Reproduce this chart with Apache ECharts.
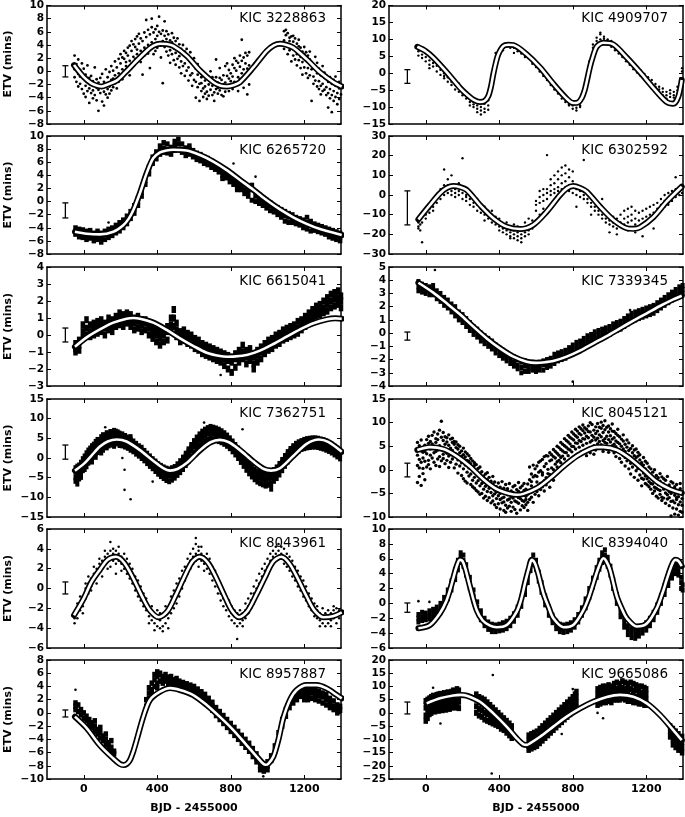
<!DOCTYPE html>
<html><head><meta charset="utf-8">
<script src="https://cdn.jsdelivr.net/npm/echarts/dist/echarts.min.js"></script>
<style>html,body{margin:0;padding:0;background:#fff}#c{width:685px;height:817px}</style>
</head><body><div id="c"></div>
<script>
// ---------- panel metadata ----------
const names = ['KIC 3228863','KIC 4909707','KIC 6265720','KIC 6302592','KIC 6615041','KIC 7339345',
               'KIC 7362751','KIC 8045121','KIC 8043961','KIC 8394040','KIC 8957887','KIC 9665086'];
const yMin  = [-8,-15,-8,-30,-3,-4,-15,-10,-6,-6,-10,-25];
const yMax  = [10,20,10,30,4,5,15,15,6,10,8,20];
const yStep = [2,5,2,10,1,1,5,5,2,2,2,5];
const errX  = -100;
const errLo = [-0.85,-3.0,-2.5,-15.2,-0.41,-0.53,-0.3,-1.5,-0.55,-1.2,-0.62,-0.4];
const errHi = [0.85,1.05,-0.2,2.1,0.41,0.08,3.3,1.4,0.66,0.05,0.44,4.1];
const xTicks = [0,400,800,1200];

// ---------- model curves [x, y] ----------
const m3228863 = [[-53,0.95],[-2,-0.8],[40,-1.8],[70,-2.15],[97,-2.3],[130,-2.0],[179,-1.4],[225,-0.2],[270,1.1],[342,3.1],[380,3.9],[415,4.2],[450,4.15],[487,3.85],[560,2.35],[633,0.1],[705,-1.65],[745,-2.2],[778,-2.3],[815,-2.1],[850,-1.65],[923,0.6],[996,3.1],[1035,3.95],[1068,4.2],[1100,4.05],[1140,3.6],[1213,1.85],[1286,-0.15],[1358,-1.65],[1404,-2.3]];
const m4909707 = [[-46,7.8],[0,6.5],[41,4.6],[114,0.3],[186,-4.3],[230,-6.6],[259,-7.8],[295,-8.5],[320,-8.2],[340,-6.8],[355,-4.0],[368,-0.2],[382,3.2],[395,5.6],[422,8.0],[450,8.4],[477,8.3],[549,5.6],[622,1.7],[694,-3.1],[767,-7.5],[803,-8.8],[830,-8.6],[850,-7.2],[865,-5.0],[876,-2.5],[890,1.0],[903,3.7],[930,7.8],[966,9.0],[1021,8.5],[1094,4.6],[1166,0.3],[1238,-4.3],[1311,-8.5],[1347,-9.0],[1374,-7.0],[1393,-2.0]];
const m6265720 = [[-48,-4.6],[16,-4.9],[88,-5.0],[161,-4.6],[215,-3.6],[245,-2.6],[270,-1.3],[306,1.3],[342,4.3],[378,6.6],[415,7.5],[450,7.8],[487,7.9],[560,7.8],[633,7.1],[705,6.1],[778,4.8],[850,3.3],[923,1.8],[996,0.2],[1068,-1.2],[1140,-2.4],[1213,-3.4],[1286,-4.2],[1350,-4.7],[1404,-5.1]];
const m6302592 = [[-40,-12.4],[23,-5.1],[78,0.9],[115,3.6],[150,4.6],[185,4.1],[223,2.5],[295,-5.1],[368,-11.8],[440,-16.1],[513,-17.3],[585,-15.2],[658,-8.5],[731,0],[770,3.5],[803,4.6],[840,3.6],[876,1.7],[948,-5.9],[1021,-12.7],[1094,-16.9],[1130,-17.2],[1166,-16.4],[1238,-11.3],[1311,-3.4],[1393,4.2]];
const m6615041 = [[-48,-0.69],[16,-0.14],[88,0.33],[161,0.73],[233,0.96],[270,1.0],[306,0.96],[378,0.73],[451,0.3],[524,-0.2],[597,-0.65],[669,-1.04],[742,-1.24],[780,-1.28],[814,-1.27],[887,-1.18],[959,-0.92],[1032,-0.53],[1104,-0.1],[1177,0.33],[1250,0.69],[1322,0.92],[1370,0.98],[1404,0.96]];
const m7339345 = [[-40,3.81],[41,3.06],[114,2.25],[186,1.42],[259,0.49],[332,-0.4],[404,-1.15],[477,-1.78],[549,-2.16],[600,-2.25],[650,-2.2],[694,-2.11],[767,-1.78],[839,-1.33],[912,-0.77],[985,-0.22],[1057,0.36],[1130,0.94],[1203,1.5],[1275,2.05],[1347,2.55],[1393,2.83]];
const m7362751 = [[-48,-3.2],[0,-1.5],[40,0.5],[88,2.9],[130,4.2],[180,4.7],[233,4.2],[306,2.0],[378,-0.7],[430,-2.5],[470,-3.2],[510,-2.8],[560,-1.3],[633,2.0],[690,4.0],[740,4.6],[790,4.0],[850,2.0],[923,-0.9],[980,-2.8],[1020,-3.2],[1068,-2.6],[1140,0.5],[1213,3.6],[1280,4.7],[1330,4.1],[1404,1.6]];
const m8045121 = [[-46,4.2],[23,4.8],[96,4.4],[168,2.9],[241,0.7],[313,-2],[386,-4.1],[459,-5.1],[495,-5.3],[531,-5.1],[604,-3.9],[676,-1.8],[749,0.7],[822,2.9],[894,4.4],[930,4.8],[967,4.8],[1040,4.2],[1112,2.4],[1185,0],[1257,-2.5],[1330,-4.1],[1393,-4.9]];
const m8043961 = [[-53,-2.7],[0,-1.0],[40,0.6],[88,1.9],[130,2.9],[175,3.2],[220,2.6],[270,1.0],[320,-0.9],[360,-2.2],[408,-2.9],[455,-2.3],[500,-0.7],[540,0.9],[590,2.7],[630,3.2],[675,2.6],[720,1.1],[770,-0.9],[805,-2.2],[845,-2.9],[890,-2.3],[940,-0.6],[985,1.1],[1030,2.7],[1075,3.2],[1120,2.5],[1165,1.0],[1213,-0.8],[1255,-2.2],[1305,-2.9],[1355,-2.8],[1404,-2.4]];
const m8394040 = [[-40,-3.35],[23,-2.9],[78,-1.3],[110,0.2],[132,1.8],[150,3.4],[168,4.94],[186,5.85],[200,5.7],[215,4.7],[241,2.25],[277,-0.9],[310,-2.3],[350,-3.0],[386,-3.2],[441,-2.9],[495,-1.1],[520,0.6],[540,2.7],[560,4.6],[577,5.85],[592,5.5],[610,4.2],[640,1.36],[670,-0.6],[694,-2],[749,-3.2],[803,-2.9],[858,-0.9],[890,1.0],[912,2.7],[940,4.8],[967,6.06],[982,5.7],[1003,4.5],[1040,0.9],[1070,-0.9],[1094,-2],[1148,-3.1],[1203,-2.7],[1257,-0.66],[1290,1.5],[1311,3.15],[1335,4.9],[1357,5.85],[1375,5.7],[1393,5.0]];
const m8957887 = [[-48,-0.57],[16,-2.3],[88,-4.9],[161,-6.9],[195,-7.7],[215,-7.9],[235,-7.7],[252,-7.1],[270,-5.8],[288,-4.1],[324,-0.6],[360,1.95],[415,3.2],[470,3.75],[524,3.46],[596,2.7],[669,1.2],[741,-0.6],[814,-2.6],[887,-4.9],[941,-6.6],[977,-7.7],[990,-7.85],[1004,-7.7],[1032,-6.6],[1059,-4.1],[1086,-0.8],[1122,1.95],[1159,3.46],[1213,4.2],[1267,4.2],[1322,3.7],[1377,2.7],[1404,2.2]];
const m9665086 = [[5,3.6],[78,5.5],[150,6.6],[190,6.8],[223,6.5],[295,4.2],[368,-0.2],[440,-5.2],[495,-9.6],[531,-11.9],[550,-12.1],[567,-11.5],[622,-9],[694,-5.2],[767,-1.4],[840,1.7],[912,4.2],[985,6],[1057,6.8],[1130,6.1],[1203,3.6],[1275,-0.8],[1347,-6.5],[1393,-10.3]];

// ---------- observed ETVs: rows of [x, y1, y2, ...] ----------
const o3228863 = [[-50,2.4,0.3,-0.9],[-40,1.1,-1.6,0.6],[-30,-0.4,1.8,-2.3],[-20,-1.9,0.2,-0.8],[-10,-2.7,-0.3,1.2],[0,-1.1,-3.4,0.4],[10,-2.2,-0.5,-3.9],[20,-1.4,-3.0,0.9],[30,-2.6,-4.8,-1.0],[40,-0.7,-3.3,-2.0],[50,-2.9,-1.5,-4.1],[60,-3.6,-2.1,0.6],[70,-1.2,-4.4,-2.5],[80,-2.8,-6.0,-1.7],[90,-3.3,-1.0,-2.2],[100,-2.4,-4.6,-0.4],[110,-1.6,-3.1,-5.2],[120,-3.5,-2.0,0.3],[130,-0.9,-2.7,-4.0],[140,-2.3,-0.1,-3.4],[150,-1.3,-2.9,0.8],[160,0.1,-2.4,-1.1],[170,-1.8,1.5,-0.6],[180,0.6,-1.2,-2.6],[190,-0.3,1.9,-1.6],[200,1.2,-0.9,2.6],[210,0.3,2.1,-1.2],[220,1.9,-0.2,3.1],[230,0.8,2.8,1.4],[240,2.4,0.4,3.6],[250,1.6,3.9,-0.6],[260,3.1,1.2,4.6],[270,2.2,4.1,0.9],[280,3.7,1.9,4.9],[290,2.6,5.3,3.3],[300,4.2,2.1,5.7],[310,3.1,5.0,1.4],[320,4.6,2.8,-0.5],[330,3.6,5.9,2.4],[340,5.2,3.3,7.8],[350,4.0,6.3,2.7],[360,5.6,3.4,0.5],[370,4.4,6.7,8.0],[380,5.9,3.8,2.6],[390,4.9,6.4,3.1],[400,5.4,3.6,6.9],[410,4.3,6.0,8.3],[420,5.7,3.9,2.1],[430,4.6,6.2,-1.8],[440,3.7,5.4,7.6],[450,4.9,3.0,6.1],[460,4.1,5.6,2.4],[470,3.2,4.7,1.3],[480,4.4,2.6,5.8],[490,3.5,1.7,5.1],[500,2.8,4.6,1.0],[510,3.6,1.9,5.0],[520,2.3,4.1,0.6],[530,1.5,3.4,-0.3],[540,2.7,0.8,4.0],[550,1.2,3.0,-0.7],[560,2.2,0.1,3.4],[570,0.6,2.4,-1.4],[580,1.5,-0.6,2.9],[590,-0.3,1.8,-2.2],[600,0.9,-1.3,2.0],[610,-1.6,0.4,-4.0],[620,-0.5,-2.4,1.1],[630,-1.9,0.2,-4.5],[640,-0.9,-3.0,-1.8],[650,-2.6,-0.6,-3.9],[660,-1.4,-3.4,-2.3],[670,-3.1,-1.1,-4.2],[680,-2.0,-3.7,-0.8],[690,-2.8,-1.2,0.0],[700,-3.6,-2.2,-0.9],[710,-1.5,-3.2,-4.5],[720,-2.7,-0.9,1.8],[730,-3.4,-1.7,-2.5],[740,-1.0,-2.9,0.5],[750,-2.3,-3.6,-1.3],[760,-0.6,-2.0,-3.8],[770,-1.7,-3.1,0.8],[780,-2.5,-0.7,1.2],[790,-1.1,-3.0,0.2],[800,-2.2,-0.3,-1.5],[810,-0.8,-2.7,1.0],[820,-1.6,0.5,2.0],[830,0.1,-1.9,1.6],[840,-0.9,1.3,-3.0],[850,0.7,-1.2,2.4],[860,1.6,-0.3,4.8],[870,0.3,2.1,-2.5],[880,1.2,-0.5,2.8],[890,2.4,0.4,-3.5],[900,0.9,2.9,-2.0],[1090,4.7,6.1,3.4],[1100,5.5,3.9,6.3],[1110,4.0,5.8,2.6],[1120,5.1,3.2,4.6],[1130,3.6,5.3,1.5],[1140,4.5,2.4,5.4],[1150,3.3,5.0,1.8],[1160,2.6,4.2,0.9],[1170,3.8,1.7,4.8],[1180,2.2,3.6,0.5],[1190,1.4,3.0,-0.5],[1200,2.6,0.6,3.7],[1210,1.6,-0.3,2.9],[1220,0.5,2.4,-1.0],[1230,1.8,-0.6,3.0],[1240,0.3,1.4,-4.5],[1250,-0.8,1.0,-1.9],[1260,0.6,-1.4,2.2],[1270,-0.3,-2.3,1.3],[1280,-1.5,0.4,-2.7],[1290,-0.6,-2.2,-3.5],[1300,-1.9,0.8,-3.0],[1310,-1.0,-2.8,-0.2],[1320,-2.4,-0.6,-3.6],[1330,-1.6,-3.3,-5.5],[1340,-2.7,-0.9,-4.1],[1350,-1.9,-3.6,-6.2],[1360,-3.0,-1.3,-4.5],[1370,-2.2,-3.9,-0.8],[1380,-3.3,-1.8,-5.0],[1390,-2.6,-4.2,-1.6],[1400,-3.5,-2.0]];
const o4909707 = [[-40,6.5,5.2],[-20,5.5,4.5],[0,4.8,3.5],[20,3.8,2.5,1.5],[40,3.0,2.0],[60,2.2,0.5],[80,1.0,-0.5],[100,0.0,-1.5,-0.8],[120,-1.2,-2.5],[140,-2.5,-3.5],[160,-3.5,-4.8],[180,-4.5,-5.5,-3.0],[200,-5.8,-6.5],[220,-6.5,-7.5],[240,-7.5,-8.5,-9.5],[260,-8.5,-10.0,-9.2],[280,-9.5,-10.5,-11.5],[300,-10.0,-11.0,-12.2],[320,-9.0,-10.5,-11.5],[340,-8.0,-9.5,-10.8],[380,4.0,6.0],[400,7.0,6.2,5.5],[420,8.0,7.5,6.8],[440,8.5,7.8],[460,8.2,7.5,8.8],[480,7.5,8.0,6.0],[500,7.2,6.5],[520,6.5,5.8],[540,5.5,6.2,4.8],[560,4.5,5.0],[580,3.5,4.2,2.8],[600,2.5,1.8],[620,1.2,0.5],[640,0.0,-0.8],[660,-1.0,-2.0,-1.5],[680,-2.5,-3.5],[700,-4.0,-4.8],[720,-5.2,-6.0],[740,-6.5,-7.5],[760,-7.8,-8.5],[780,-8.5,-9.5,-9.2],[800,-9.5,-10.5],[820,-9.0,-10.2,-11.0],[840,-9.5,-10.0],[890,2.0,3.5],[910,6.0,7.5,8.5],[930,9.5,10.5,8.0],[950,10.0,11.5,9.0,12.0],[970,10.2,9.5,10.8],[990,9.0,10.0,8.5],[1010,8.5,7.8,9.5],[1030,7.5,8.2,6.8],[1050,6.5,7.0,5.8],[1070,5.5,6.2,4.8],[1090,4.2,5.0,3.5],[1110,3.2,4.0,2.5],[1130,2.0,2.8,1.2],[1150,1.0,1.5,0.2],[1170,0.0,0.8,-0.8],[1190,-1.0,-0.2,-1.8],[1210,-2.0,-1.2,-2.8],[1230,-3.0,-2.0,-3.8],[1250,-4.0,-3.2,-4.8],[1270,-4.8,-4.0,-5.8],[1290,-5.5,-6.5,-4.5],[1310,-6.5,-5.5,-7.5],[1330,-6.0,-7.0,-5.0],[1350,-6.5,-5.5,-7.2],[1370,-5.0,-6.0,-4.0],[1385,-3.0,-1.5],[1395,0.5,1.5]];
const o6265720 = [[-45,-4.0,-4.6,-5.0],[-25,-4.2,-4.8,-5.4],[-5,-4.3,-5.0,-5.5],[15,-4.5,-5.2,-5.8],[35,-4.4,-5.0,-5.6],[55,-4.8,-5.4,-6.0],[75,-4.5,-5.2,-5.8],[95,-4.8,-5.5,-6.2],[115,-4.5,-5.0,-5.8],[135,-4.2,-4.8,-5.5],[155,-4.0,-4.6,-5.2],[175,-3.6,-4.2,-4.8],[195,-3.2,-3.8,-4.5],[215,-2.8,-3.4,-4.0],[235,-2.2,-2.8,-3.4],[255,-1.5,-2.0,-2.6],[275,-0.6,-1.2,-1.8],[295,0.5,0.0,-0.6],[315,2.0,1.4,0.8],[335,3.8,3.2,2.6],[355,5.3,4.8,4.2],[375,6.8,6.2,5.8],[395,7.6,7.0,6.5],[415,8.5,7.8,7.2],[435,9.0,8.2,7.5],[455,8.8,8.0,7.4],[475,8.3,7.8,7.2],[495,9.2,8.6,7.8],[515,9.5,8.8,8.0],[535,8.8,8.0,7.5],[555,8.2,7.6,7.0],[575,8.5,8.0,7.2],[595,7.8,7.2,6.8],[615,7.4,7.0,6.4],[635,7.2,6.6,6.2],[655,6.8,6.4,5.8],[675,6.6,6.0,5.6],[695,6.2,5.8,5.2],[715,5.8,5.4,4.9],[735,5.4,5.0,4.5],[755,5.0,4.5,4.0,3.5],[775,4.6,4.2,3.6],[795,4.2,3.6,3.0],[815,3.8,3.2,2.6],[835,3.4,2.8,2.2,1.8],[855,3.0,2.4,1.8],[875,2.5,1.8,1.2],[895,2.2,1.5,0.8],[915,2.5,1.8,0.2],[935,1.5,0.8,0.0],[955,1.0,0.4,-0.3],[975,0.6,0.0,-0.6],[995,0.2,-0.3,-1.0],[1015,-0.2,-0.7,-1.4],[1035,-0.6,-1.1,-1.6],[1055,-0.9,-1.4,-2.0],[1075,-1.2,-1.8,-2.4],[1095,-1.5,-2.2,-3.0],[1115,-1.8,-2.4,-3.2],[1135,-2.0,-2.6,-3.2],[1155,-2.4,-2.8,-3.4],[1175,-2.6,-3.0,-3.6],[1195,-2.8,-3.4,-4.0],[1215,-2.4,-3.2,-4.2],[1235,-3.0,-3.6,-4.5],[1255,-3.4,-3.9,-4.4],[1275,-3.6,-4.1,-4.6],[1295,-3.8,-4.3,-4.8],[1315,-4.0,-4.5,-5.0],[1335,-4.2,-4.7,-5.4],[1355,-4.4,-5.0,-5.6],[1375,-4.6,-5.2,-5.8],[1395,-4.8,-5.4,-6.0]];
const o6302592 = [[-40,-14,-17,-16],[-30,-12,-18,-15],[-20,-10,-14,-24],[0,-8,-12,-10],[20,-5,-9,-7],[40,-3,-6,-8],[60,-1,-4,0],[80,1,-2,3],[100,2,0,5,13],[120,3,1,8,5],[140,4,2,0,10],[160,3,5,1,-1],[180,2,4,0,6],[200,1,3,-2,18.7],[220,0,2,-3,-1],[240,-2,0,-5],[260,-4,-2,-6],[280,-5,-3,-8,-2],[300,-7,-5,-9],[320,-8,-6,-10,-13],[340,-10,-8,-12],[360,-12,-10,-14,-8],[380,-13,-11,-15],[400,-14,-12,-16,-18],[420,-15,-17,-19],[440,-16,-18,-20,-14],[460,-17,-19,-21,-22],[480,-18,-20,-22,-15],[500,-19,-21,-23,-16],[520,-18,-20,-22,-24],[540,-17,-19,-21,-14],[560,-16,-18,-20,-12],[580,-13,-15,-17],[600,-5,-3,-8,-13],[620,-4,-1,2,-10],[640,-3,0,3,-7],[660,1,3,-2,20.3],[680,2,5,0,8],[700,3,6,1,10],[720,4,8,2,12],[740,6,10,3,14],[760,7,11,4,15],[780,5,9,2,13],[800,4,7,1,12],[820,3,5,0,-6],[840,2,4,-1],[860,0,3,-2,17.8],[880,-2,1,-4],[900,-4,-1,-6,-10],[920,-6,-3,-8],[940,-8,-5,-10],[960,-10,-7,-12,-2],[980,-12,-9,-14],[1000,-13,-10,-15,-19],[1020,-14,-11,-16],[1040,-15,-12,-17,-20],[1060,-14,-10,-16],[1080,-12,-8,-15],[1100,-11,-7,-14,-18],[1120,-10,-6,-13],[1140,-12,-8,-15,-19],[1160,-13,-9,-16],[1180,-12,-8,-15,-21],[1200,-11,-7,-14],[1220,-10,-6,-12],[1240,-9,-5,-11,-17],[1260,-7,-4,-10],[1280,-5,-2,-8],[1300,-3,0,-6],[1320,-2,1,-5,-4],[1340,0,2,-3],[1360,1,3,-1,9],[1380,2,4,0],[1395,3,5,1]];
const o6615041 = [[-45,-0.5,-0.8,-1.0],[-25,-0.3,-0.6,-0.9],[-5,0.2,-0.2,0.6],[15,0.4,0.0,0.9],[35,0.2,0.6,-0.1],[55,0.4,0.0,0.7],[75,0.5,0.1,0.8],[95,0.6,0.2,0.9],[115,0.4,0.0,0.7],[135,0.7,0.3,1.0],[155,0.5,0.9,0.2],[175,0.8,0.5,1.1],[195,1.0,0.6,1.3],[215,0.8,1.2,0.5],[235,1.0,0.7,1.3],[255,0.9,0.5,1.2],[275,0.7,1.0,0.3],[295,0.8,0.4,1.1],[315,0.6,0.9,0.2],[335,0.7,0.3,0.9],[355,0.4,0.7,0.0],[375,0.2,-0.2,0.5],[395,0.0,-0.4,0.3],[415,-0.2,-0.6,0.2],[435,0.0,-0.4,0.3],[455,0.2,-0.3,0.5],[475,0.6,1.0,0.2],[490,1.0,1.5,0.5],[505,0.3,0.7,-0.1],[525,-0.1,0.2,-0.4],[545,0.0,-0.3,0.3],[565,-0.2,0.1,-0.5],[585,-0.3,0.0,-0.6],[605,-0.5,-0.2,-0.8],[625,-0.6,-0.3,-0.9],[645,-0.8,-0.5,-1.1],[665,-0.9,-1.2,-0.6],[685,-1.0,-1.3,-0.7],[705,-1.1,-1.4,-0.8],[725,-1.2,-1.5,-0.9],[745,-1.3,-1.6,-1.0],[765,-1.4,-1.8,-1.1],[785,-1.5,-2.0,-1.2],[805,-1.6,-2.2,-1.3],[825,-1.4,-1.9,-1.1],[845,-1.2,-1.6,-0.9],[865,-1.0,-1.4,-0.6],[885,-0.9,-1.3,-1.7],[905,-1.1,-1.5,-0.8],[925,-1.3,-1.7,-2.0],[945,-1.2,-1.6,-0.9],[965,-1.0,-1.4,-0.7],[985,-0.8,-1.1,-0.5],[1005,-0.6,-0.9,-0.3],[1025,-0.5,-0.8,-0.2],[1045,-0.3,-0.6,0.0],[1065,-0.2,-0.5,0.1],[1085,0.0,-0.3,0.3],[1105,0.1,-0.2,0.4],[1125,0.2,-0.1,0.5],[1145,0.3,0.0,0.6],[1165,0.4,0.1,0.8],[1185,0.6,0.3,0.9],[1205,0.8,0.5,1.1],[1225,1.0,0.7,1.3],[1245,1.2,0.9,1.5],[1265,1.4,1.1,1.7],[1285,1.5,1.2,1.8],[1305,1.6,1.3,2.0],[1325,1.8,1.4,2.2],[1345,2.0,1.6,2.4],[1365,2.1,1.7,2.5],[1385,2.2,1.8,2.6],[1400,2.0,1.6,2.3]];
const o7339345 = [[-40,3.9,3.5,3.2],[-20,3.7,3.4,3.1],[0,3.6,3.3,3.0],[20,3.5,3.2,2.9],[40,3.6,3.3,2.9],[60,3.2,2.9,2.6],[80,3.0,2.7,2.4],[100,2.7,2.4,2.1],[120,2.5,2.2,1.9],[140,2.2,1.9,1.6],[160,2.0,1.6,1.3],[180,1.6,1.3,1.0],[200,1.4,1.1,0.8],[220,1.1,0.8,0.5],[240,0.8,0.5,0.2],[260,0.5,0.2,-0.1],[280,0.3,0.0,-0.3],[300,0.0,-0.3,-0.6],[320,-0.2,-0.5,-0.8],[340,-0.4,-0.7,-1.0],[360,-0.6,-0.9,-1.2],[380,-0.9,-1.2,-1.5],[400,-1.1,-1.4,-1.7],[420,-1.3,-1.6,-1.9],[440,-1.5,-1.8,-2.1],[460,-1.7,-2.0,-2.3],[480,-1.8,-2.2,-2.5],[500,-2.0,-2.4,-2.7],[520,-2.2,-2.6,-3.0],[540,-2.1,-2.5,-2.9],[560,-2.3,-2.6,-2.9],[580,-2.2,-2.5,-2.8],[600,-2.3,-2.6,-2.9],[620,-2.2,-2.5,-2.8],[640,-2.1,-2.4,-2.8],[660,-2.0,-2.3,-2.6],[680,-1.9,-2.2,-2.5],[700,-1.6,-1.9,-2.3],[720,-1.5,-1.8,-2.1],[740,-1.4,-1.7,-2.0],[760,-1.3,-1.6,-1.9],[780,-1.1,-1.4,-1.7],[800,-0.9,-1.2,-1.5],[820,-0.7,-1.0,-1.3],[840,-0.6,-0.9,-1.2],[860,-0.4,-0.7,-1.0],[880,-0.2,-0.5,-0.8],[900,-0.1,-0.4,-0.7],[920,0.1,-0.2,-0.5],[940,0.2,-0.1,-0.4],[960,0.3,0.0,-0.3],[980,0.4,0.1,-0.2],[1000,0.5,0.2,-0.1],[1020,0.7,0.4,0.1],[1040,0.8,0.5,0.2],[1060,0.9,0.6,0.3],[1080,1.1,0.8,0.5],[1100,1.3,1.0,0.7],[1120,1.5,1.2,0.9],[1140,1.6,1.3,1.0],[1160,1.7,1.4,1.1],[1180,1.8,1.5,1.2],[1200,1.9,1.6,1.3],[1220,2.0,1.7,1.4],[1240,2.1,1.8,1.5],[1260,2.3,2.0,1.7],[1280,2.5,2.2,1.9],[1300,2.7,2.4,2.1],[1320,2.9,2.6,2.3],[1340,3.1,2.8,2.5],[1360,3.3,3.0,2.7],[1380,3.5,3.2,2.9],[1398,3.6,3.3,3.0]];
const o7362751 = [[-45,-3.4,-4.9,-5.8,-2.6],[-35,-2.2,-4.1,-6.5,-3.3],[-25,-1.9,-3.5,-5.2,-4.6],[-15,-1.2,-2.6,-4.8,-3.7],[-5,-0.3,-2.4,-3.1,-1.5],[5,0.4,-1.3,-2.8,-0.6],[15,1.2,-0.4,-2.1,0.3],[25,1.9,0.3,-1.2,1.0],[35,2.4,0.9,-0.5,1.6],[45,1.8,3.0,0.2,-0.9],[55,3.4,1.6,0.7,2.5],[65,2.9,4.1,1.2,0.3],[75,3.8,2.2,1.5,4.6],[85,4.5,3.1,1.9,2.6],[95,3.7,5.3,2.4,1.4],[105,4.9,3.4,5.8,2.1],[117,4.2,3.1],[125,5.6,3.9,6.3,2.7],[135,6.1,4.6,3.2,5.2],[145,5.0,6.6,3.6,4.3],[155,6.4,4.8,3.4,5.7],[165,5.3,6.9,4.1,3.1],[175,6.7,4.5,5.6,3.7],[185,5.9,3.9,6.5,4.8],[195,4.4,6.2,5.1,3.3],[210,6.0,4.6,3.2,5.5],[225,5.6,4.1,2.9,5.0],[240,5.2,3.7,2.6,4.4],[255,4.6,3.3,2.1,5.3],[270,4.2,2.9,1.7,3.5],[285,3.6,2.3,1.1,2.9],[300,3.0,1.8,0.6,2.4],[315,2.6,1.2,0.0,1.9],[330,1.8,0.5,-0.6,1.1],[345,1.1,-0.2,-1.3,0.4],[360,0.4,-0.8,-2.0,-0.3],[375,-0.3,-1.5,-2.6],[390,-0.9,-2.1,-3.3,-1.4],[405,-1.6,-2.8,-4.0,-2.3],[420,-2.0,-3.4,-4.6,-2.7],[435,-2.4,-3.8,-5.1,-3.1],[450,-2.7,-4.2,-5.6,-3.5],[465,-2.9,-4.4,-5.9,-3.8],[480,-2.6,-4.1,-5.5,-3.3],[495,-2.3,-3.6,-5.0,-4.4],[510,-1.6,-3.0,-4.3,-2.4],[525,-0.8,-2.2,-3.6,-1.5],[540,0.1,-1.3,-2.8,-0.6],[555,1.1,-0.3,-1.8,0.5],[570,2.2,0.8,-0.7,1.6],[585,3.3,1.9,0.4,2.7],[600,4.3,2.9,1.4,3.6],[615,5.2,3.8,2.3,4.5],[630,6.0,4.6,3.1,5.3],[645,6.7,5.3,3.8,6.0],[660,7.2,5.8,4.3,6.5],[675,7.6,6.2,4.7,6.9],[690,7.9,6.4,5.0,7.2],[705,7.7,6.3,4.8,7.0],[720,7.5,6.0,4.6,6.8],[735,7.2,5.7,4.3,6.5],[750,6.8,5.4,4.0,6.1],[765,6.3,5.0,3.6,5.7],[780,5.7,4.4,3.1,5.1],[795,5.0,3.7,2.5,4.4],[810,4.2,3.0,1.7,3.6],[825,3.3,2.1,0.9,2.7],[840,2.4,1.2,0.0,1.8],[855,1.4,0.2,-1.0,0.8],[870,0.4,-0.8,-2.0,-0.2],[885,-0.6,-1.8,-3.0,-1.2],[900,-1.5,-2.7,-3.9,-2.1],[915,-2.3,-3.5,-4.7,-2.9],[930,-2.9,-4.2,-5.4,-3.6],[945,-3.4,-4.7,-6.0,-4.1],[960,-3.7,-5.0,-6.4,-4.4],[975,-3.9,-5.3,-6.7,-4.6],[990,-4.0,-5.4,-6.9,-7.0],[1005,-3.9,-5.3,-6.8,-4.5],[1020,-3.6,-5.0,-6.4,-7.8],[1035,-3.1,-4.5,-5.8,-3.8],[1050,-2.4,-3.8,-5.1,-3.1],[1065,-1.5,-2.9,-4.2,-2.2],[1080,-0.5,-1.8,-3.1,-1.2],[1095,0.5,-0.7,-2.0,-0.1],[1110,1.5,0.3,-0.9,0.9],[1125,2.3,1.2,0.0,1.8],[1140,3.0,1.9,0.8,2.5],[1155,3.6,2.5,1.4,3.1],[1170,4.0,3.0,1.9,3.5],[1185,4.3,3.3,2.3,3.8],[1200,4.6,3.6,2.5,4.1],[1215,4.8,3.8,2.7,4.3],[1230,4.9,3.9,2.8,4.4],[1245,5.0,4.0,2.9,4.5],[1260,5.0,4.0,2.9,4.5],[1275,4.9,3.9,2.8,4.4],[1290,4.7,3.7,2.6,4.2],[1305,4.5,3.5,2.4,4.0],[1320,4.2,3.2,2.1,3.7],[1335,3.8,2.8,1.8,3.3],[1350,3.4,2.4,1.4,2.9],[1365,2.9,1.9,0.9,2.4],[1380,2.4,1.4,0.4,1.9],[1395,1.9,0.9,-0.1,1.4]];
const o8045121 = [[-45,5.8,0.9,3.1,-2.7],[-35,2.2,5.1,-1.4,0.4],[-25,4.0,-3.3,1.6,6.3],[-15,0.3,3.7,-0.8,2.5],[-5,5.2,1.8,-2.1,3.9],[5,3.4,6.4,0.6,4.8],[15,2.0,5.6,7.1,1.1],[25,6.0,3.1,0.2,4.4],[35,4.7,7.3,2.5,5.5],[45,1.6,5.0,8.0,3.6],[55,6.6,3.9,0.9,5.8],[65,4.2,7.6,2.3,6.4],[75,5.1,2.8,8.4,0.7],[85,6.9,4.5,1.9,10.3],[95,3.3,6.2,7.9,2.4],[105,5.4,1.3,4.0,7.0],[115,6.8,3.5,5.9,2.0],[125,2.9,5.2,7.4,0.5],[135,4.6,6.5,1.6,3.7],[145,5.8,2.3,4.1,6.7],[155,3.0,5.4,0.4,6.0],[165,4.7,1.2,3.3,5.9],[175,2.1,4.4,-0.7,5.3],[185,3.6,0.8,5.0,2.4],[195,1.5,4.0,-1.2,2.9],[205,3.2,0.2,4.6,-1.9],[215,1.0,2.7,-2.4,3.8],[225,-0.5,2.0,3.4,-2.8],[235,1.8,-1.3,0.4,3.0],[245,-0.9,1.3,-3.1,2.4],[255,0.6,-2.2,1.9,-3.6],[265,-1.6,0.9,-3.9,1.5],[275,-0.2,-2.8,1.1,-4.4],[285,-2.3,0.3,-4.7,-1.0],[295,-0.9,-3.4,0.6,-5.2],[305,-2.9,-0.4,-5.0,-1.7],[315,-1.3,-4.1,-6.0,-2.6],[325,-3.5,-0.9,-5.6,-2.0],[335,-2.1,-4.6,-6.5,-0.6],[345,-3.9,-1.6,-5.9,-2.7],[355,-4.8,-2.4,-7.0,-3.3],[365,-3.0,-5.5,-1.4,-6.6],[375,-4.3,-7.4,-2.6,-5.1],[385,-3.6,-6.1,-8.0,-4.7],[395,-5.5,-2.8,-7.2,-4.1],[405,-6.3,-3.7,-8.3,-5.0],[415,-4.4,-7.0,-2.5,-6.0],[425,-5.8,-8.6,-3.9,-6.8],[435,-4.9,-7.5,-3.1,-9.0],[445,-6.4,-4.0,-8.1,-5.3],[455,-5.1,-7.7,-2.9,-6.2],[465,-6.9,-4.5,-8.8,-5.7],[475,-3.6,-6.0,-7.9,-4.8],[485,-5.4,-8.4,-3.3,-6.6],[495,-6.8,-4.2,-9.2,-5.0],[505,-4.6,-7.1,-5.9,-2.7],[515,-6.1,-3.8,-8.5,-5.4],[525,-5.0,-7.6,-3.4,-6.5],[535,-6.7,-4.4,-8.0,-2.9],[545,-4.1,-6.3,-7.4,-5.6],[555,-5.2,-3.0,-6.9,-8.6],[565,-2.1,-4.6,0.6,-6.3],[575,-3.4,-0.9,-5.8,-2.5],[585,-1.5,-4.4,1.0,-6.9],[595,-3.8,-1.2,-5.2,0.2],[605,-2.6,0.8,-4.6,-1.4],[615,-0.5,-3.3,1.6,-5.5],[625,-2.9,-0.2,-4.2,1.9],[635,-1.1,2.2,-3.6,-0.6],[645,0.7,-2.3,2.8,-4.5],[655,-1.7,1.3,-3.2,3.0],[665,0.1,2.9,-2.4,-0.8],[675,1.9,-1.0,3.6,-3.7],[685,0.4,3.2,-1.6,2.1],[695,2.8,0.0,4.3,-2.2],[705,1.2,3.9,-0.9,2.5],[715,3.5,0.6,5.0,1.7],[725,2.0,4.7,-0.3,3.1],[735,4.3,1.5,5.8,2.6],[745,2.9,5.4,0.7,4.0],[755,5.1,2.3,6.6,3.7],[765,3.6,6.2,1.4,4.8],[775,5.9,3.0,7.3,4.4],[785,4.2,6.9,2.1,5.5],[795,6.6,3.8,8.0,5.0],[805,4.9,7.6,2.7,6.3],[815,7.2,4.4,8.6,5.7],[825,5.6,8.2,3.3,6.9],[835,7.7,4.8,9.1,6.2],[845,6.0,8.7,3.8,7.4],[855,8.3,5.2,9.5,6.6],[865,6.5,8.9,4.1,7.8],[875,8.6,5.6,3.0,7.1],[885,6.8,9.3,4.5,8.1],[895,8.0,5.9,10.0,3.6],[905,7.3,9.6,4.8,6.2],[915,5.1,8.4,6.9,3.3],[925,9.1,6.3,4.2,7.7],[935,6.7,9.8,5.5,8.2],[945,4.6,7.4,9.0,6.0],[955,8.8,5.3,10.1,7.0],[965,6.2,9.4,3.9,7.9],[975,8.5,5.8,10.4,6.6],[985,7.1,4.4,9.0,5.6],[995,9.3,6.4,3.7,8.0],[1005,5.9,8.7,4.8,7.2],[1015,8.2,5.1,9.7,6.5],[1025,6.8,3.6,8.1,5.4],[1035,4.9,7.7,2.8,6.1],[1045,7.3,4.3,8.6,5.8],[1055,5.5,2.4,7.0,4.2],[1065,3.7,6.5,1.6,5.0],[1075,6.1,3.0,7.4,4.4],[1085,2.6,5.4,0.8,3.9],[1095,4.8,1.9,6.3,3.2],[1105,3.0,5.7,0.2,4.1],[1115,1.4,4.5,-0.9,2.7],[1125,3.6,0.6,5.1,2.0],[1135,1.9,4.2,-1.6,3.0],[1145,-0.2,2.6,4.4,1.1],[1155,2.9,0.3,-2.2,3.7],[1165,0.9,3.2,-1.1,2.1],[1175,-1.8,1.5,-3.4,0.4],[1185,1.0,-2.0,2.6,-0.7],[1195,-2.9,0.2,-1.3,1.8],[1205,-0.4,-3.2,1.4,-1.9],[1215,-3.6,-1.0,0.6,-2.5],[1225,-1.4,-4.1,0.2,-2.9],[1235,-3.0,-0.5,-5.0,-1.8],[1245,-4.5,-2.1,0.0,-3.7],[1255,-1.2,-3.9,-5.6,-2.6],[1265,-4.2,-1.7,-6.0,-3.1],[1275,-2.4,-5.2,-0.8,-4.4],[1285,-5.8,-3.3,-1.5,-6.5],[1295,-3.0,-6.0,-4.1,-1.9],[1305,-4.9,-2.2,-7.1,-3.6],[1315,-6.2,-3.8,-1.4,-5.3],[1325,-3.2,-5.9,-7.6,-4.6],[1335,-5.0,-2.5,-6.7,-9.8],[1345,-6.6,-4.0,-8.1,-2.8],[1355,-3.6,-7.0,-5.4,-9.4],[1365,-5.9,-8.3,-3.1,-6.3],[1375,-7.4,-4.5,-9.6,-5.7],[1385,-4.0,-6.8,-8.8,-2.9],[1395,-6.1,-9.0,-4.7,-7.5]];
const o8043961 = [[-50,-2.5,-3.5,-3.0],[-35,-2.0,-3.0,-1.5],[-20,-1.5,-2.2,-0.8],[-5,-0.8,-1.8,-2.5],[10,0.0,-1.0,0.5],[25,0.5,-0.5,1.2],[40,1.0,0.2,-0.2],[55,1.5,0.8,2.2],[70,2.0,1.2,0.5],[85,2.5,1.8,3.0],[100,2.8,2.0,1.2],[115,3.2,2.5,3.8],[130,3.5,2.8,2.0],[145,3.8,3.0,2.2,4.7],[160,3.5,2.8,4.0],[175,3.8,3.2,2.5,1.5],[190,3.5,2.8,4.2],[205,3.2,2.5,1.8],[220,2.8,2.0,3.5],[235,2.2,1.5,3.0],[250,1.8,1.0,2.5],[265,1.2,0.5,2.0],[280,0.5,-0.2,1.2],[295,0.0,-0.8,0.8],[310,-0.5,-1.2,0.2],[325,-1.0,-1.8,-0.5],[340,-1.5,-2.2,-1.0],[355,-2.0,-2.8,-3.5],[370,-2.5,-3.2,-1.8],[385,-2.8,-3.5,-4.2],[400,-3.0,-3.8,-2.2],[415,-3.2,-4.0,-2.5],[430,-2.8,-3.8,-4.3],[445,-2.5,-3.5,-1.8],[460,-2.0,-3.0,-4.0],[475,-1.5,-2.5,-0.8],[490,-1.0,-2.0,-0.2],[505,-0.5,-1.5,0.5],[520,0.2,-0.8,1.0],[535,0.8,0.0,1.8],[550,1.5,0.8,2.2],[565,2.2,1.5,3.0],[580,2.8,2.0,3.5],[595,3.2,2.5,4.0],[610,3.5,2.8,4.5,5.1],[625,3.8,3.0,2.2,4.2],[640,3.5,2.8,4.2],[655,3.2,2.5,1.8],[670,2.8,2.0,3.5],[685,2.2,1.5,3.0],[700,1.5,0.8,2.2],[715,1.0,0.2,1.8],[730,0.2,-0.5,1.0],[745,-0.5,-1.2,0.2],[760,-1.0,-1.8,-0.5],[775,-1.5,-2.2,-0.8],[790,-2.0,-2.8,-1.2],[805,-2.5,-3.2,-1.8],[820,-2.8,-3.5,-2.2],[835,-3.0,-3.8,-2.5,-5.1],[850,-2.8,-3.5,-2.2],[865,-2.5,-3.2,-3.8],[880,-2.2,-3.0,-1.5],[895,-1.8,-2.5,-1.0],[910,-1.2,-2.0,-0.5],[925,-0.5,-1.5,0.2],[940,0.0,-0.8,0.8],[955,0.5,-0.2,1.5],[970,1.2,0.5,2.0],[985,1.8,1.0,2.5],[1000,2.2,1.5,3.0],[1015,2.8,2.0,3.5],[1030,3.2,2.5,3.8],[1045,3.5,2.8,4.2],[1060,3.8,3.0,4.5],[1075,3.5,3.0,4.2],[1090,3.2,2.5,4.0],[1105,3.0,2.2,3.5],[1120,2.5,1.8,3.2],[1135,2.0,1.2,2.8],[1150,1.5,0.8,2.2],[1165,1.0,0.2,1.8],[1180,0.5,-0.2,1.2],[1195,0.0,-0.8,0.8],[1210,-0.5,-1.2,0.2],[1225,-1.0,-1.8,-0.5],[1240,-1.5,-2.2,-1.0],[1255,-2.0,-2.8,-1.5],[1270,-2.2,-3.0,-1.8],[1285,-2.5,-3.2,-3.8],[1300,-2.8,-3.5,-2.0],[1315,-3.0,-3.8,-2.5],[1330,-2.8,-3.5,-2.2],[1345,-2.5,-3.2,-3.8],[1360,-2.2,-3.0,-1.8],[1375,-2.0,-2.8,-3.5],[1390,-2.2,-3.0,-2.5]];
const o8394040 = [[-40,-1.5,-2.0,-2.5],[-20,-1.2,-1.8,-2.3],[0,-1.3,-1.8,-2.2],[20,-1.0,-1.6,-2.1],[40,-0.8,-1.3,-1.9],[60,-0.5,-1.0,-1.5],[80,0.0,-0.6,-1.2],[100,0.8,0.2,-0.4],[120,1.8,1.2,0.6],[140,3.0,2.5,1.8],[160,4.5,3.8,3.2],[175,5.8,5.2,4.5],[190,6.8,6.2,5.5],[205,6.5,5.8,5.0],[220,5.2,4.5,3.8],[240,3.5,2.8,2.0],[260,1.8,1.0,0.4],[280,0.2,-0.5,-1.0],[300,-1.0,-1.6,-2.2],[320,-2.0,-2.5,-3.0],[340,-2.5,-3.0,-3.5],[360,-2.8,-3.3,-3.8],[380,-2.9,-3.4,-3.8],[400,-2.8,-3.3,-3.7],[420,-2.6,-3.1,-3.6],[440,-2.4,-2.9,-3.4],[460,-2.0,-2.5,-3.0],[480,-1.4,-1.9,-2.4],[500,-0.5,-1.0,-1.6],[520,0.8,0.2,-0.4],[540,2.5,1.8,1.2],[555,4.0,3.4,2.8],[570,5.6,5.0,4.4],[585,6.5,5.8,5.2],[600,5.8,5.2,4.6],[615,4.2,3.6,3.0],[630,2.8,2.2,1.5],[650,1.0,0.4,-0.2],[670,-0.5,-1.0,-1.6],[690,-1.6,-2.1,-2.6],[710,-2.4,-2.9,-3.4],[730,-2.8,-3.3,-3.8],[750,-2.9,-3.4,-3.9],[770,-2.8,-3.3,-3.8],[790,-2.6,-3.1,-3.6],[810,-2.2,-2.7,-3.2],[830,-1.5,-2.0,-2.5],[850,-0.6,-1.1,-1.6],[870,0.6,0.0,-0.6],[890,2.0,1.4,0.8],[910,3.4,2.8,2.2],[930,4.8,4.2,3.5],[945,5.8,5.2,4.6],[960,6.8,6.2,5.5],[975,7.2,6.5,5.8],[990,6.2,5.6,5.0],[1005,5.0,4.4,3.8],[1020,3.2,2.6,2.0],[1040,1.2,0.6,0.0],[1060,-0.6,-1.2,-1.8],[1080,-2.0,-2.6,-3.2],[1100,-3.0,-3.6,-4.2],[1120,-3.4,-4.0,-4.6],[1140,-3.5,-4.1,-4.7],[1160,-3.2,-3.8,-4.4],[1180,-3.0,-3.5,-4.0],[1200,-2.6,-3.1,-3.6],[1220,-2.0,-2.5,-3.0],[1240,-1.2,-1.7,-2.2],[1260,-0.2,-0.7,-1.2],[1280,1.0,0.5,0.0],[1300,2.4,1.8,1.2],[1320,3.6,3.0,2.4],[1340,4.6,4.0,3.4],[1360,5.2,4.6,4.0],[1375,5.0,4.4,3.8],[1390,3.5,2.8,2.0],[1398,2.5,1.8]];
const o8957887 = [[-45,1.5,1.0,0.5],[-30,1.2,0.2],[-15,0.5,-0.3],[0,0.0,-0.8],[15,-0.5,-1.2],[30,-1.0,-1.8],[45,-1.5,-2.2],[60,-2.0,-2.8,-1.2],[75,-2.5,-3.2],[90,-3.0,-3.8,-2.2],[105,-3.5,-4.2],[120,-4.0,-4.8,-3.2],[135,-4.5,-5.2],[150,-5.2,-5.8,-4.2],[165,-5.8,-6.2],[340,2.0,1.0],[355,3.0,2.2,3.8],[370,3.5,4.5,2.8],[385,4.0,5.0,5.8],[400,4.5,5.5,6.2,3.8],[415,4.8,5.8,6.0],[430,5.0,5.5,4.5],[445,4.8,5.2,5.8],[460,4.8,5.4,4.2],[475,4.6,5.0,5.5],[490,4.5,5.0,4.0],[505,4.4,4.8,5.2],[520,4.3,4.8,3.8],[540,4.2,4.6,3.6],[560,4.0,4.4,3.4],[580,3.8,3.2,4.2],[600,3.5,3.0,4.0],[620,3.2,2.6,3.6],[640,2.8,2.2,3.2],[660,2.2,1.6,2.8],[680,1.6,1.0,2.2],[700,1.0,0.4,1.6],[720,0.2,-0.4,0.8],[740,-0.4,-1.0,0.2],[760,-1.0,-1.6,-0.4],[780,-1.6,-2.2,-1.0],[800,-2.2,-2.8,-1.6],[820,-2.8,-3.4,-2.2],[840,-3.4,-4.0,-2.8],[860,-4.0,-4.6,-3.4],[880,-4.6,-5.2,-4.0],[900,-5.2,-5.8,-4.6],[920,-6.0,-6.6,-5.4],[940,-6.8,-7.4,-6.2],[960,-7.4,-8.0,-8.6],[980,-7.8,-8.4,-8.8],[1000,-7.4,-8.0,-8.6],[1020,-6.5,-7.2],[1040,-5.0,-5.8],[1060,-3.0,-4.0],[1080,-1.0,-2.0],[1100,0.5,-0.5],[1120,1.5,0.8],[1140,2.2,1.5],[1160,2.8,2.0],[1180,3.2,2.5],[1200,3.5,2.8,2.0],[1220,3.4,2.8,2.0],[1240,3.6,3.0,2.2],[1260,3.5,2.8,2.0],[1280,3.3,2.6,1.8],[1300,3.0,2.4,1.5],[1320,2.8,2.0,1.2],[1340,2.2,1.5,0.8],[1360,1.8,1.0,0.5],[1380,1.2,0.5,0.0],[1395,1.0,0.4]];
const o9665086 = [[0,4.5,2.0,-1.0,-3.0],[10,5.0,3.0,0.5,-2.0],[20,5.5,3.5,1.0,-0.5],[30,6.0,4.0,2.0,0.0],[40,6.5,4.5,2.5],[50,6.2,4.2,2.2,0.5],[60,6.8,4.8,2.8,1.0],[70,7.0,5.0,3.0,0.8],[80,7.2,5.2,3.2],[90,7.0,5.0,3.0,1.0],[100,7.5,5.5,3.5,1.5],[110,7.2,5.2,3.2,1.2],[120,7.8,5.8,3.8,1.8],[130,7.5,5.5,3.5,1.5],[140,8.0,6.0,4.0,2.0],[150,8.5,6.2,4.2,2.2],[160,8.2,6.0,4.0,2.0],[170,9.0,6.5,4.5,2.5],[180,8.5,6.2,4.2,1.8],[275,7.0,5.0,2.5,0.0],[290,6.0,4.0,1.5,-1.0],[305,5.5,3.5,1.0,-1.5],[320,5.0,2.5,0.0,-2.5],[335,4.0,1.5,-0.5,-3.0],[350,3.0,0.5,-1.5,-3.5],[365,2.0,-0.5,-2.5,-4.0],[380,1.0,-1.5,-3.0,-4.5],[395,0.0,-2.0,-3.5,-5.0],[410,-1.0,-3.0,-4.5,-6.0],[425,-2.0,-3.5,-5.0,-6.5],[440,-3.0,-4.5,-6.0,-7.5],[455,-4.0,-5.5,-7.0,-8.5],[468,-5.0,-6.5,-8.0,-9.5],[560,-8.5,-10.5,-12.5,-14.0],[575,-8.0,-10.0,-12.0,-13.5],[590,-7.5,-9.5,-11.5,-13.0],[605,-7.0,-9.0,-11.0,-12.5],[620,-6.0,-8.0,-10.0,-11.5],[635,-5.0,-7.0,-9.0,-10.5],[650,-4.0,-6.0,-8.0,-9.5],[665,-3.0,-5.0,-7.0,-8.5],[680,-2.0,-4.0,-6.0,-7.5],[695,-1.0,-3.0,-5.0,-6.5],[710,0.0,-2.0,-4.0,-5.5],[725,1.0,-1.0,-3.0,-4.5],[740,2.0,0.0,-2.0,-3.5],[755,3.0,1.0,-1.0,-2.5],[770,4.0,2.0,0.0,-1.5],[785,5.0,3.0,1.0,-0.5],[800,6.0,4.0,2.0,0.5],[812,7.0,5.0,3.0,1.5],[820,8.0,6.0,4.0,2.0],[935,9.0,7.0,5.0,3.0],[950,9.5,7.5,5.5,3.5],[965,10.0,8.0,6.0,4.0],[980,10.0,8.0,6.0,4.0],[995,10.5,8.5,6.5,4.5],[1010,10.0,8.0,6.0,4.0],[1025,11.0,9.0,7.0,5.0],[1040,11.5,9.0,7.0,5.0],[1055,11.0,9.0,7.0,5.0],[1070,12.0,9.5,7.5,5.5],[1085,11.5,9.0,7.0,5.0],[1100,11.0,9.0,7.0,4.5],[1115,11.5,9.0,6.5,4.5],[1130,11.0,8.5,6.5,4.0],[1145,10.5,8.5,6.0,4.0],[1160,10.0,8.0,6.0,3.5],[1175,10.0,7.5,5.5,3.5],[1190,9.5,7.5,5.5,3.0],[1200,9.0,7.0,5.0,3.0],[1330,-5.0,-7.0,-9.0],[1345,-6.0,-8.0,-10.0,-12.0],[1360,-7.0,-9.0,-11.0,-13.0],[1375,-8.0,-10.0,-12.0,-14.0],[1395,-9.0,-11.0,-13.0,-15.0]];

// ---------- isolated outlying ETVs [x, y] (drawn as small dots) ----------
const u6265720 = [[135,-3.2],[815,5.8],[935,3.8]];
const u6615041 = [[745,-2.35]];
const u7339345 = [[50,4.77],[800,-3.67],[1112,1.75]];
const u7362751 = [[117,7.8],[210,0.0],[222,-3.0],[222,-8.1],[255,-10.5],[375,-6.0],[655,9.0],[864,7.3]];
const u8394040 = [[-40,0.3],[20,0.2]];
const u8957887 = [[-45,3.5],[977,-9.6]];
const u9665086 = [[40,9.5],[80,-4.0],[359,-22.9],[365,14.3],[740,-8.0],[800,9.0],[935,0.0],[965,-2.0]];

const models = [m3228863,m4909707,m6265720,m6302592,m6615041,m7339345,m7362751,m8045121,m8043961,m8394040,m8957887,m9665086];
const obs    = [o3228863,o4909707,o6265720,o6302592,o6615041,o7339345,o7362751,o8045121,o8043961,o8394040,o8957887,o9665086];
const outl   = [[],[],u6265720,[],u6615041,u7339345,u7362751,[],[],u8394040,u8957887,u9665086];
// marker look per panel: sparse clouds use small dots, dense bands use small blocks
const dotShape = ['circle','circle','rect','circle','rect','rect','rect','circle','circle','rect','rect','rect'];
const dotSize  = [2.8,2.4,[4.5,5],2.4,[4.5,7],[4,5],[4,6],3.4,2.5,[4,5],[4.5,5.5],[4.5,6]];

// ---------- layout ----------
const colLeft = [47,389], plotW = 294;
const rowTop = [4,136,267,399,529,660], rowH = [120,118,119,118,119,119];
const FONT = 'DejaVu Sans';

function expand(rows){ const out=[]; rows.forEach(r=>{ for(let k=1;k<r.length;k++) out.push([r[0],r[k]]); }); return out; }
function errRender(params, api){
  const x=api.value(0), lo=api.value(1), hi=api.value(2);
  const a=api.coord([x,hi]), b=api.coord([x,lo]), w=3;
  const st={stroke:'#000',lineWidth:1.3};
  return {type:'group',children:[
    {type:'line',shape:{x1:a[0],y1:a[1],x2:b[0],y2:b[1]},style:st},
    {type:'line',shape:{x1:a[0]-w,y1:a[1],x2:a[0]+w,y2:a[1]},style:st},
    {type:'line',shape:{x1:b[0]-w,y1:b[1],x2:b[0]+w,y2:b[1]},style:st}
  ]};
}

const grids=[], xAxes=[], yAxes=[], series=[], graphics=[];
names.forEach((nm,i)=>{
  const row=Math.floor(i/2), col=i%2;
  grids.push({left:colLeft[col], top:rowTop[row], width:plotW, height:rowH[row], containLabel:false});
  const xb = {gridIndex:i, type:'value', min:-200, max:1400,
    axisLine:{show:true,onZero:false,lineStyle:{color:'#000',width:1.5}},
    axisTick:{show:true,inside:true,length:4,customValues:xTicks,lineStyle:{color:'#000',width:1}},
    splitLine:{show:false}};
  xAxes.push(Object.assign({},xb,{position:'bottom',
    axisLabel:{show:row===5,customValues:xTicks,color:'#000',fontFamily:FONT,fontWeight:'bold',fontSize:11,margin:5,
      formatter:v=>String(v)}}));
  xAxes.push(Object.assign({},xb,{position:'top',axisLabel:{show:false}}));
  const yb = {gridIndex:i, type:'value', min:yMin[i], max:yMax[i], interval:yStep[i],
    axisLine:{show:true,onZero:false,lineStyle:{color:'#000',width:1.5}},
    axisTick:{show:true,inside:true,length:4,lineStyle:{color:'#000',width:1}},
    splitLine:{show:false}};
  yAxes.push(Object.assign({},yb,{position:'left',
    axisLabel:{show:true,color:'#000',fontFamily:FONT,fontWeight:'bold',fontSize:10.5,margin:3,
      showMinLabel:true,showMaxLabel:true,formatter:v=>String(v).replace('-','\u2212')}}));
  yAxes.push(Object.assign({},yb,{position:'right',axisLabel:{show:false}}));
  const xi=2*i, yi=2*i;
  series.push({type:'scatter',xAxisIndex:xi,yAxisIndex:yi,data:expand(obs[i]),symbol:dotShape[i],
    symbolSize:dotSize[i],itemStyle:{color:'#000',opacity:1},silent:true,z:2});
  series.push({type:'scatter',xAxisIndex:xi,yAxisIndex:yi,data:outl[i],symbol:'circle',
    symbolSize:2.6,itemStyle:{color:'#000',opacity:1},silent:true,z:2});
  series.push({type:'line',xAxisIndex:xi,yAxisIndex:yi,data:models[i],symbol:'none',showSymbol:false,
    smooth:0.3,lineStyle:{color:'#000',width:6,cap:'round'},silent:true,z:3});
  series.push({type:'line',xAxisIndex:xi,yAxisIndex:yi,data:models[i],symbol:'none',showSymbol:false,
    smooth:0.3,lineStyle:{color:'#fff',width:2.6},silent:true,z:4});
  series.push({type:'custom',xAxisIndex:xi,yAxisIndex:yi,data:[[errX,errLo[i],errHi[i]]],
    encode:{x:0,y:[1,2]},renderItem:errRender,silent:true,z:5});
  graphics.push({type:'text',x:colLeft[col]+plotW-15,y:rowTop[row]+14,z:10,
    style:{text:nm,fill:'#000',font:'13.5px "DejaVu Sans"',textAlign:'right',textVerticalAlign:'middle',align:'right',verticalAlign:'middle'}});
  if(col===0){
    graphics.push({type:'text',x:8,y:rowTop[row]+rowH[row]/2,rotation:Math.PI/2,z:10,
      style:{text:'ETV (mins)',fill:'#000',font:'bold 11px "DejaVu Sans"',textAlign:'center',textVerticalAlign:'middle',align:'center',verticalAlign:'middle'}});
  }
});
[0,1].forEach(col=>{
  graphics.push({type:'text',x:colLeft[col]+plotW/2,y:808,z:10,
    style:{text:'BJD - 2455000',fill:'#000',font:'bold 11px "DejaVu Sans"',textAlign:'center',textVerticalAlign:'middle',align:'center',verticalAlign:'middle'}});
});

const chart = echarts.init(document.getElementById('c'), null, {renderer:'canvas'});
chart.setOption({animation:false, backgroundColor:'#fff', grid:grids, xAxis:xAxes, yAxis:yAxes, series:series, graphic:graphics});
</script></body></html>
